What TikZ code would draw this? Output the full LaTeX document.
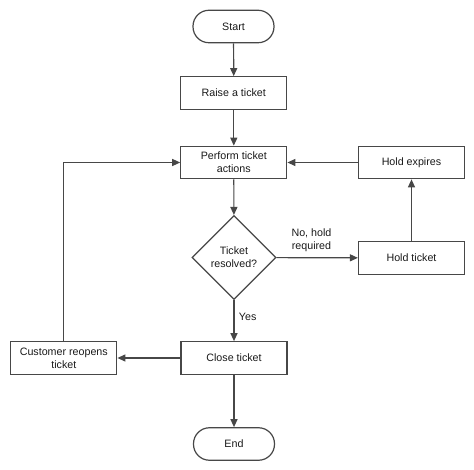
\documentclass[tikz,border=0pt]{standalone}
\usepackage{fontspec}
\setmainfont{Liberation Sans}
\usetikzlibrary{shapes.geometric,arrows.meta}
\begin{document}
\begin{tikzpicture}[x=1pt,y=-1pt,
  every node/.style={font=\fontsize{10.7}{13}\selectfont, text=black!90},
  procbox/.style={draw=black!72, line width=1.2pt, rectangle, minimum width=106pt, minimum height=32.5pt, inner sep=0pt, align=center},
  termbox/.style={draw=black!72, line width=1.2pt, rectangle, rounded corners=16pt, minimum width=81pt, minimum height=32.5pt, inner sep=0pt},
  decbox/.style={draw=black!72, line width=1.2pt, diamond, minimum width=84pt, minimum height=84pt, inner sep=0pt, align=center},
  flow/.style={draw=black!72, line width=1.2pt, -{Triangle[length=8pt,width=7pt]}}
]
\useasboundingbox (0,0) rectangle (474,470);
\node[termbox] (start) at (233.5,26.5) {Start};
\node[procbox] (raise) at (233.8,93) {Raise a ticket};
\node[procbox] (perform) at (233.8,162.5) {Perform ticket\\actions};
\node[decbox] (dec) at (234,257.5) {Ticket\\resolved?};
\node[procbox] (hold) at (411.5,258) {Hold ticket};
\node[procbox] (expires) at (411.5,162.5) {Hold expires};
\node[procbox] (close) at (234,358) {Close ticket};
\node[procbox] (reopen) at (63.8,358) {Customer reopens\\ticket};
\node[termbox] (end) at (234,444) {End};
\coordinate (lc) at (63.8,162.5);

\draw[flow] (start) -- (raise);
\draw[flow] (raise) -- (perform);
\draw[flow] (perform) -- (dec);
\draw[flow] (dec) -- node[pos=0.43, above=2pt, align=center] (nolabel) {No, hold\\required} (hold);
\draw[flow] (hold) -- (expires);
\draw[flow] (expires) -- (perform);
\draw[flow] (dec) -- node[pos=0.4, right=1pt] (yeslabel) {Yes} (close);
\draw[flow] (close) -- (reopen);
\draw[flow] (close) -- (end);
\draw[flow] (reopen.north) -- (lc) -- (perform.west);
\end{tikzpicture}
\end{document}
